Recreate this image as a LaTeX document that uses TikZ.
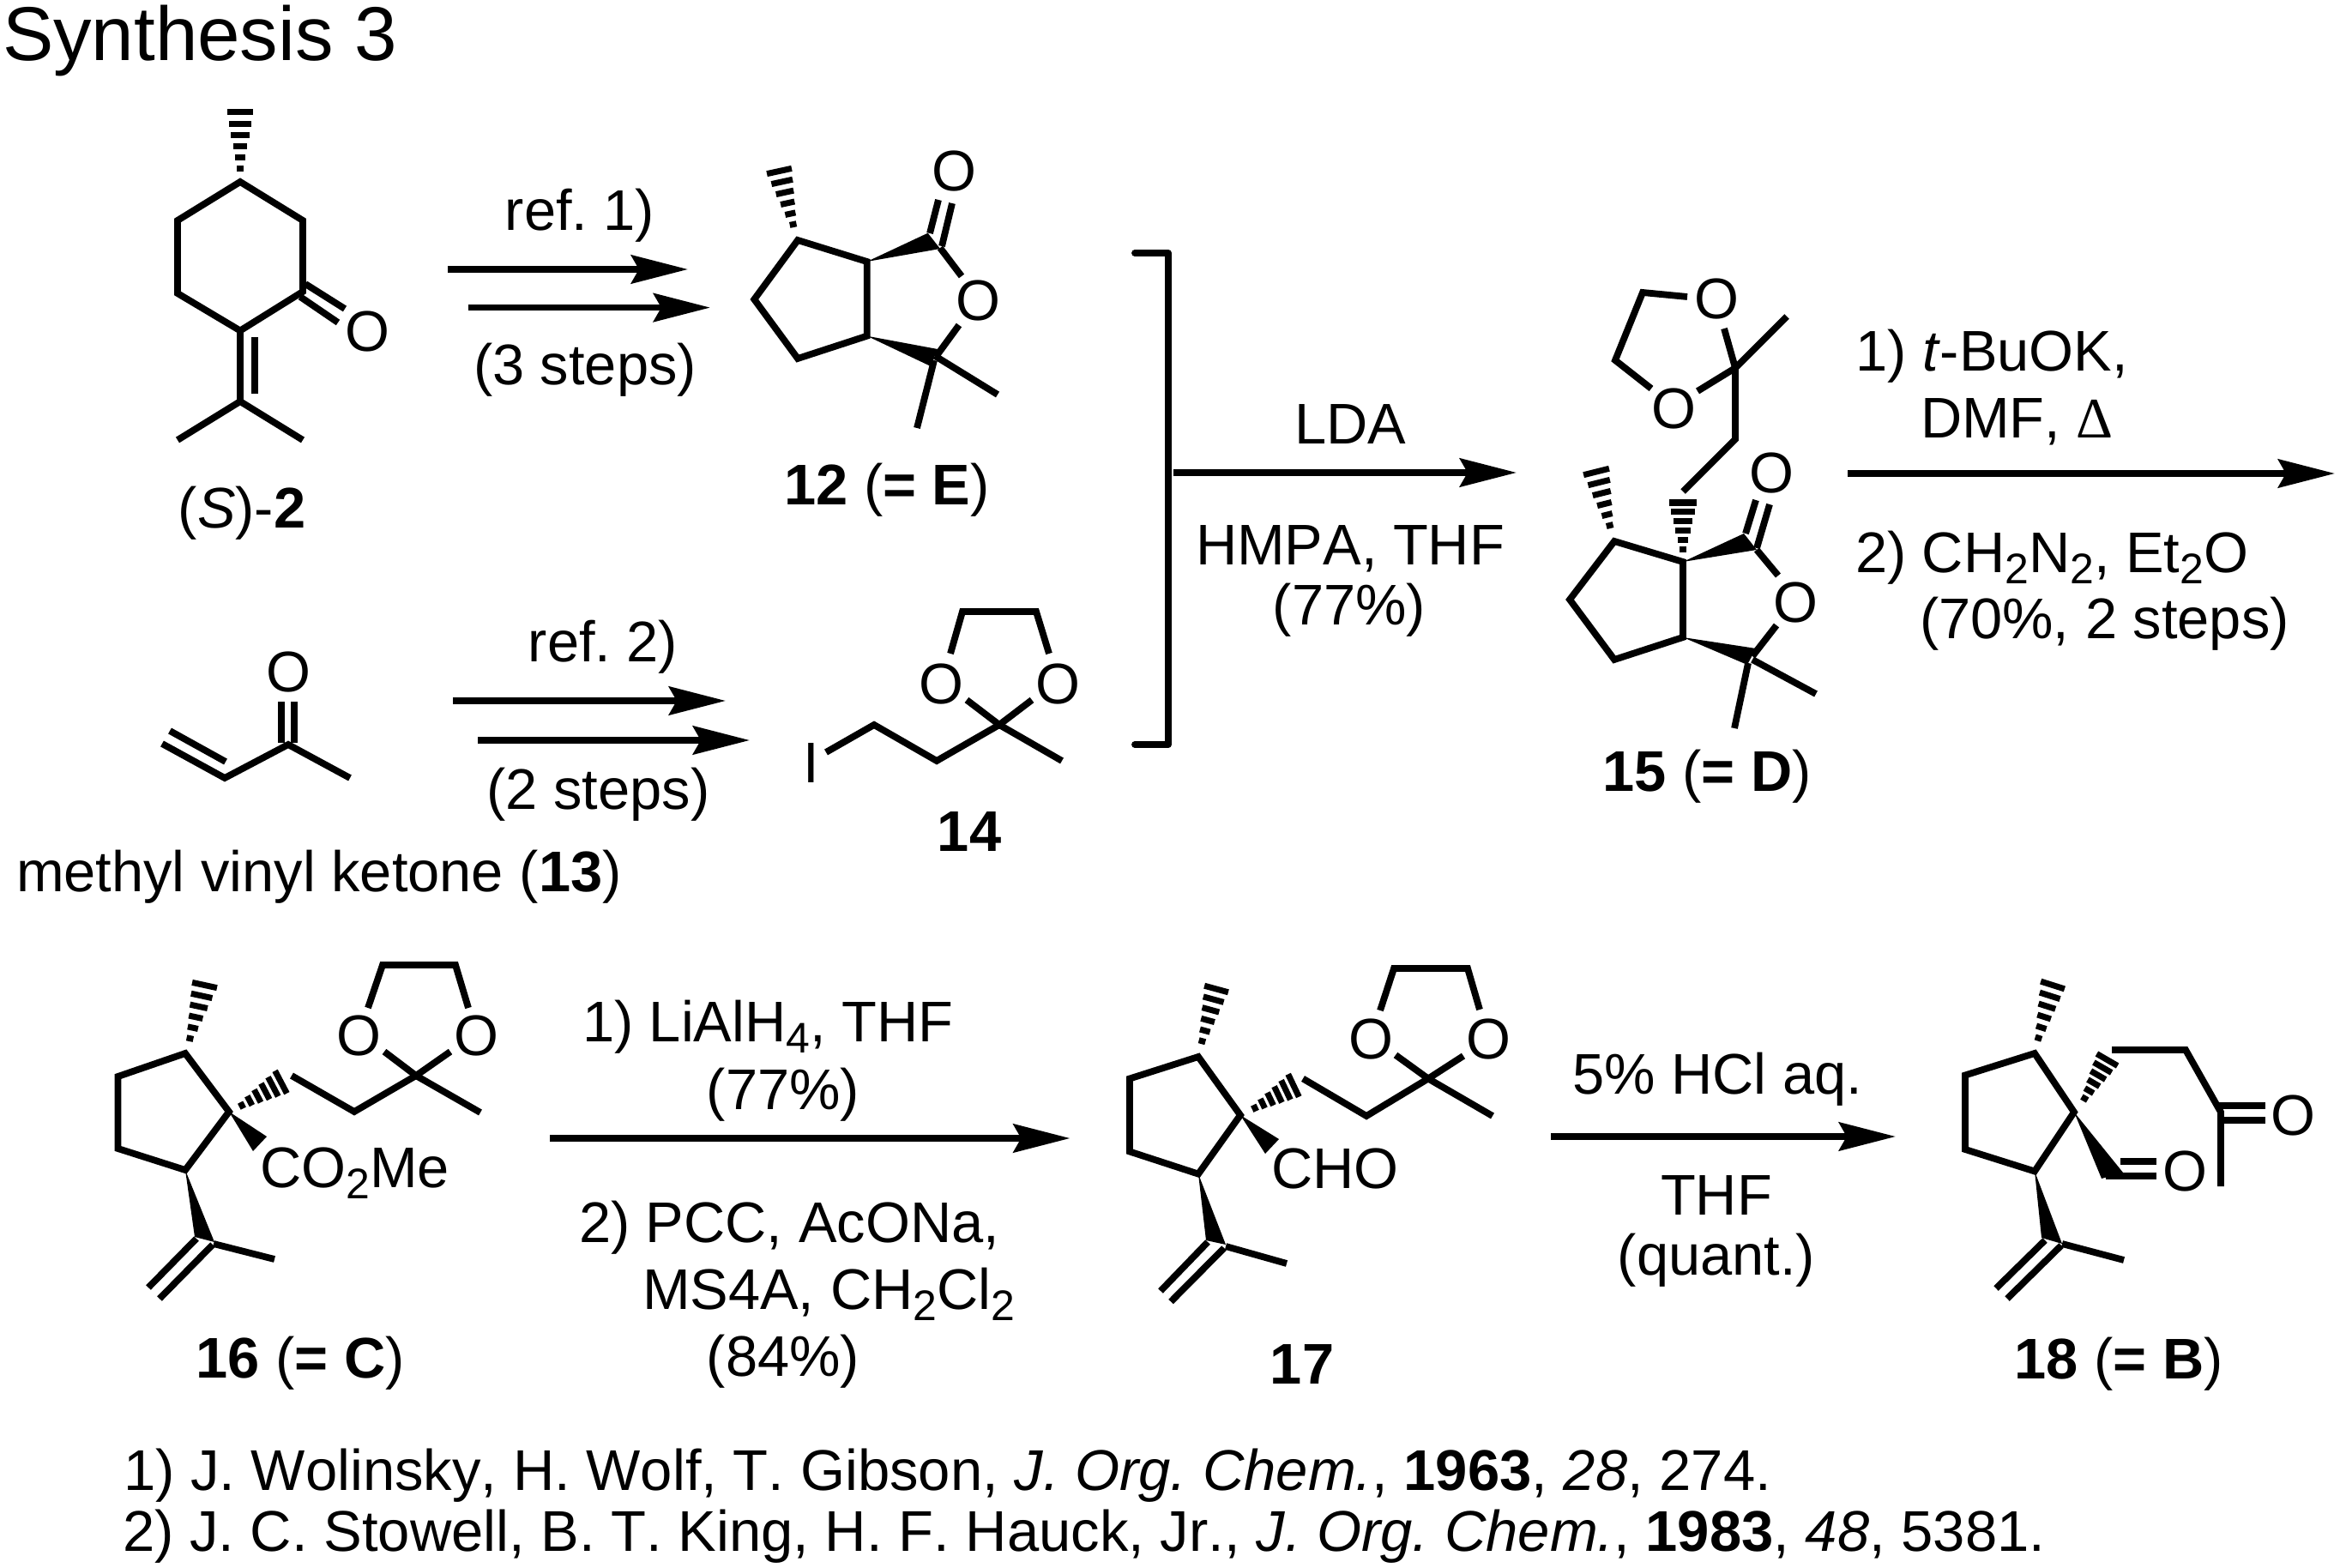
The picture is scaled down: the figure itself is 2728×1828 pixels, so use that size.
\documentclass[tikz,border=0pt]{standalone}
\usepackage{fontspec}
\setmainfont{Liberation Sans}[Kerning=Off]
\newfontfamily\serf{Liberation Serif}
\usetikzlibrary{arrows.meta,calc}
\newcommand{\subn}[1]{\raisebox{-0.2em}{\fontsize{14.2}{15}\selectfont #1}}
\newcommand{\hashw}[3]{\foreach \i in {0,...,5}{\pgfmathsetmacro\tf{0.08+0.92*\i/5}\draw[hashb] ($(#1)!\tf!(#2)$) -- ($(#1)!\tf!(#3)$);}}
\frenchspacing
\tikzset{
  bond/.style={line width=0.078cm,line join=miter,line cap=butt},
  hashb/.style={line width=0.07cm,shorten <=-0.03cm,shorten >=-0.03cm},
  arr/.style={line width=0.077cm,-{Stealth[length=0.66cm,width=0.33cm,inset=0.09cm]}},
  brk/.style={line width=0.078cm,line cap=round,line join=round},
  atom/.style={inner sep=0pt,outer sep=0pt,anchor=center,font=\fontsize{19}{22}\selectfont},
  lbl/.style={inner sep=0pt,outer sep=0pt,anchor=base,font=\fontsize{19}{22}\selectfont},
  lbw/.style={inner sep=0pt,outer sep=0pt,anchor=base west,font=\fontsize{19}{22}\selectfont},
}
\begin{document}
\begin{tikzpicture}[x=0.01cm,y=-0.01cm]
\useasboundingbox (0,0) rectangle (2728,1828);
\fill[white] (0,0) rectangle (2728,1828);
\node[lbw,font=\fontsize{25.3}{30}\selectfont] (title) at (3,71) {Synthesis 3};

% compound 2
\draw[bond] (280,212)--(207,257)--(207,342)--(280,385.5)--(353,340)--(353,257)--cycle;
\hashw{280,202}{268,131}{292,131}
\draw[bond] (356,331)--(402,360);
\draw[bond] (350,346)--(394,376);
\node[atom] (o2) at (428,387) {O};
\draw[bond] (280,385)--(280,468);
\draw[bond] (297,393)--(297,459);
\draw[bond] (207,513)--(280,468)--(353,513);
\node[lbl] (l2) at (282,615) {(\textit{S})-\textbf{2}};

% arrows ref 1
\coordinate (a1s) at (522,314); \coordinate (a1e) at (802,314);
\coordinate (a2s) at (546,358.6); \coordinate (a2e) at (828,358.6);
\draw[arr] (a1s)--(a1e);
\draw[arr] (a2s)--(a2e);
\node[lbl] (r1) at (676,269) {ref. 1)};
\node[lbl] (s3) at (682,449) {(3 steps)};

% compound 12
\draw[bond] (1010.7,305)--(930,280)--(879.3,349)--(930,418)--(1010.7,391.7)--cycle;
\hashw{926,267}{897,202}{920,197}
\fill (1010.7,305)--(1081.7,271.7)--(1096,290)--cycle;
\draw[bond] (1094,233)--(1084,272);
\draw[bond] (1110,237)--(1098,287);
\node[atom] (o12a) at (1112,200) {O};
\draw[bond] (1096,289)--(1121,322);
\node[atom] (o12b) at (1140,351) {O};
\draw[bond] (1118,379)--(1091,416);
\fill (1010.7,391.7)--(1093,407)--(1085,427)--cycle;
\draw[bond] (1090,415)--(1163,460);
\draw[bond] (1089,420)--(1069,499);
\node[lbl] (l12) at (1034,588) {\textbf{12} (\textbf{= E})};

% MVK
\draw[bond] (189,867)--(262,907)--(336,868)--(408,907);
\draw[bond] (198,852)--(263,888);
\draw[bond] (328,818)--(328,866);
\draw[bond] (343,818)--(343,866);
\node[atom] (o13) at (336,783) {O};
\node[lbw] (l13) at (19,1039) {methyl vinyl ketone (\textbf{13})};

% arrows ref 2
\coordinate (a3s) at (528,817); \coordinate (a3e) at (846,817);
\coordinate (a4s) at (557,863); \coordinate (a4e) at (874,863);
\draw[arr] (a3s)--(a3e);
\draw[arr] (a4s)--(a4e);
\node[lbl] (r2) at (703,771) {ref. 2)};
\node[lbl] (s2) at (697.5,943) {(2 steps)};

% compound 14
\node[lbl] (i14) at (946,912) {I};
\draw[bond] (963,877)--(1019,845)--(1092,887)--(1165,845)--(1238,887);
\draw[bond] (1127,816)--(1165,845)--(1203,816);
\node[atom] (o14a) at (1097,797) {O};
\node[atom] (o14b) at (1233,797) {O};
\draw[bond] (1108,762)--(1122,713)--(1208,713)--(1223,762);
\node[lbl] (l14) at (1130,992) {\textbf{14}};

% bracket
\draw[brk] (1323,295)--(1362,295)--(1362,868)--(1323,868);

% LDA arrow
\coordinate (a5s) at (1368,551); \coordinate (a5e) at (1768,551);
\draw[arr] (a5s)--(a5e);
\node[lbl] (t5a) at (1574,518) {LDA};
\node[lbl] (t5b) at (1574,658) {HMPA, THF};
\node[lbl] (t5c) at (1573,728.5) {(77\%)};

% compound 15
\draw[bond] (1967,346)--(1915,341)--(1883,420)--(1925,453);
\node[atom] (o15a) at (2001,349) {O};
\node[atom] (o15b) at (1951,477) {O};
\draw[bond] (2010,383)--(2023,429);
\draw[bond] (1979,456)--(2023,429);
\draw[bond] (2023,429)--(2083,369);
\draw[bond] (2023,425)--(2023,512)--(1962,573);
\hashw{1962,645}{1949,586}{1975,586}
\draw[bond] (1962,655)--(1882,631)--(1830,699)--(1882,769)--(1962,743)--cycle;
\hashw{1878,618}{1849,553}{1873,547}
\fill (1962,655)--(2033,622)--(2048,641)--cycle;
\draw[bond] (2047,583)--(2035,622);
\draw[bond] (2063,588)--(2048,639);
\node[atom] (o15c) at (2065,551) {O};
\draw[bond] (2048,641)--(2073,671);
\node[atom] (o15d) at (2093,702) {O};
\draw[bond] (2071,729)--(2043,765);
\fill (1962,743)--(2047,756)--(2037,775)--cycle;
\draw[bond] (2043,769)--(2117,809);
\draw[bond] (2038,773)--(2022,849);
\node[lbl] (l15) at (1990,922) {\textbf{15} (\textbf{= D})};

% arrow to next line
\coordinate (a6s) at (2154,552); \coordinate (a6e) at (2722,552);
\draw[arr] (a6s)--(a6e);
\node[lbw] (t6a) at (2163,433) {1) \textit{t}-BuOK,};
\node[lbw] (t6b) at (2239,511) {DMF, {\serf Δ}};
\node[lbw] (t6c) at (2163,667) {2) CH\subn{2}N\subn{2}, Et\subn{2}O};
\node[lbw] (t6d) at (2238,744) {(70\%, 2 steps)};

% compound 16
\draw[bond] (216,1228)--(137.5,1255)--(137.5,1339)--(216,1364)--(267,1296)--cycle;
\hashw{220,1216}{227,1146}{250,1151}
\hashw{278,1291}{322,1251}{333,1272}
\draw[bond] (340,1254)--(413,1296)--(485,1254)--(560,1297);
\draw[bond] (448,1226)--(485,1254)--(525,1226);
\node[atom] (o16a) at (418,1207.5) {O};
\node[atom] (o16b) at (555,1207.5) {O};
\draw[bond] (429,1175)--(446,1125)--(531,1125)--(546,1175);
\fill (267,1296)--(311,1325)--(295,1342)--cycle;
\node[lbw] (t16) at (303,1384) {CO\subn{2}Me};
\fill (216,1364)--(227,1442)--(250,1448)--cycle;
\draw[bond] (229,1444)--(173,1501);
\draw[bond] (248,1451)--(186,1514);
\draw[bond] (249,1450)--(320,1468);
\node[lbl] (l16) at (350,1606) {\textbf{16} (\textbf{= C})};

% arrow 16-17
\coordinate (a7s) at (641,1327); \coordinate (a7e) at (1247.5,1327);
\draw[arr] (a7s)--(a7e);
\node[lbw] (t7a) at (679,1214) {1) LiAlH\subn{4}, THF};
\node[lbl] (t7b) at (913,1293) {(77\%)};
\node[lbw] (t7c) at (675,1448) {2) PCC, AcONa,};
\node[lbw] (t7d) at (749,1526) {MS4A, CH\subn{2}Cl\subn{2}};
\node[lbl] (t7e) at (913,1604) {(84\%)};

% compound 17
\draw[bond] (1397,1232)--(1317,1257.5)--(1317,1342.5)--(1397,1368.6)--(1446,1300)--cycle;
\hashw{1400,1219}{1407,1150}{1429,1156}
\hashw{1459,1294}{1503,1255}{1513,1276}
\draw[bond] (1519,1257.5)--(1593,1301)--(1665,1257.5)--(1740,1301);
\draw[bond] (1627,1230)--(1665,1257.5)--(1706,1231);
\node[atom] (o17a) at (1598,1211) {O};
\node[atom] (o17b) at (1735,1211) {O};
\draw[bond] (1609,1178)--(1625,1129)--(1711,1129)--(1725,1177);
\fill (1446,1300)--(1491,1328)--(1475,1345)--cycle;
\node[lbw] (t17) at (1482,1385) {CHO};
\fill (1397,1368.6)--(1406,1446)--(1429,1451)--cycle;
\draw[bond] (1408,1448)--(1353,1505);
\draw[bond] (1427,1455)--(1365,1517.5);
\draw[bond] (1429,1453)--(1500,1473);
\node[lbl] (l17) at (1518,1613) {\textbf{17}};

% arrow 17-18
\coordinate (a8s) at (1808,1325); \coordinate (a8e) at (2210,1325);
\draw[arr] (a8s)--(a8e);
\node[lbl] (t8a) at (2002,1275) {5\% HCl aq.};
\node[lbl] (t8b) at (2001,1416) {THF};
\node[lbl] (t8c) at (2001,1486) {(quant.)};

% compound 18
\draw[bond] (2372,1228)--(2291,1253.5)--(2291,1340)--(2372,1365.5)--(2418,1296.5)--cycle;
\hashw{2375,1215.5}{2382,1145}{2404,1152}
\hashw{2428,1284.5}{2447,1230}{2466,1241}
\draw[bond] (2462,1224)--(2548,1224)--(2589,1296.5)--(2589,1383);
\draw[bond] (2586,1288.6)--(2641,1288.6);
\draw[bond] (2589,1306)--(2641,1306);
\node[atom] (o18a) at (2673,1300) {O};
\fill (2418,1296.5)--(2475,1367)--(2450,1374)--cycle;
\draw[bond] (2472,1354)--(2514,1354);
\draw[bond] (2455,1371)--(2514,1371);
\node[atom] (o18b) at (2547,1365) {O};
\fill (2372,1365.5)--(2380,1443)--(2404,1450)--cycle;
\draw[bond] (2384,1446)--(2327,1502);
\draw[bond] (2403,1452)--(2340,1514);
\draw[bond] (2404,1450)--(2476,1469);
\node[lbl] (l18) at (2470,1607) {\textbf{18} (\textbf{= B})};

% references
\node[lbw] (ref1) at (144,1737) {\fontsize{19.05}{22}\selectfont 1) J. Wolinsky, H. Wolf, T. Gibson, \textit{J. Org. Chem.}, \textbf{1963}, \textit{28}, 274.};
\node[lbw] (ref2) at (143,1808) {\fontsize{19.05}{22}\selectfont 2) J. C. Stowell, B. T. King, H. F. Hauck, Jr., \textit{J. Org. Chem.}, \textbf{1983}, \textit{48}, 5381.};
\end{tikzpicture}
\end{document}
